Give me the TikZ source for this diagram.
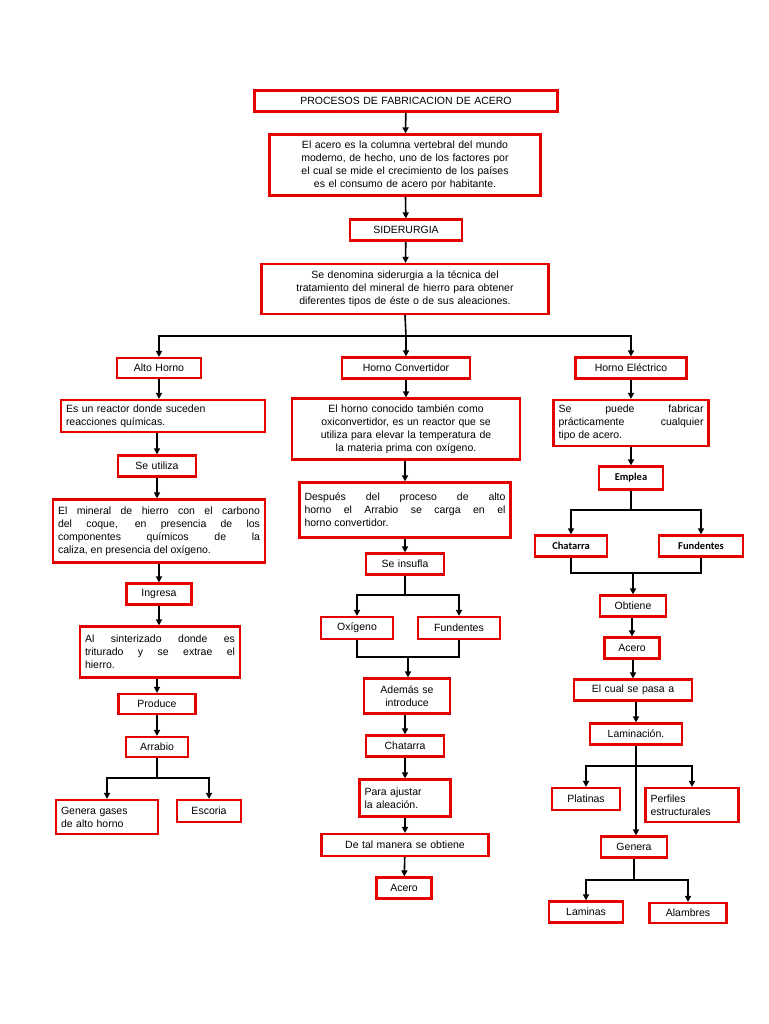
\documentclass[tikz,border=0pt]{standalone}
\usepackage{fontspec}
\setmainfont{Liberation Sans}
\newfontfamily\carfont{Carlito}
\usetikzlibrary{arrows.meta}
\begin{document}
\begin{tikzpicture}[x=1pt,y=-1pt,
  box/.style={draw=red!90!black,line width=2.2pt,fill=white,inner sep=2pt,font=\fontsize{10.5}{13}\selectfont},
  ln/.style={line width=1.6pt,black},
  arr/.style={ln,-{Triangle[length=6pt,width=6pt]}}]
\useasboundingbox[fill=white] (0,0) rectangle (768,1024);
\newcommand\bx[7]{\node[box,minimum width=#4,minimum height=#5,text width=#4-10,align=#6] (#1) at (#2,#3) {#7};}
% top
\bx{t}{406}{101}{303}{21}{center}{PROCESOS DE FABRICACION DE ACERO}
\bx{a}{405}{165}{271}{61}{center}{El acero es la columna vertebral del mundo\\moderno, de hecho, uno de los factores por\\el cual se mide el crecimiento de los países\\es el consumo de acero por habitante.}
\bx{s}{406}{230}{112}{21}{center}{SIDERURGIA}
\bx{d}{405}{289}{287}{50}{center}{Se denomina siderurgia a la técnica del\\tratamiento del mineral de hierro para obtener\\diferentes tipos de éste o de sus aleaciones.}
\bx{ah}{159}{368}{84}{20}{center}{Alto Horno}
\bx{hc}{406}{368}{128}{21}{center}{Horno Convertidor}
\bx{he}{631}{368}{111}{21}{center}{Horno Eléctrico}
% left
\bx{l1}{163}{416}{204}{32}{left}{Es un reactor donde suceden\\reacciones químicas.}
\bx{l2}{157}{466}{78}{21}{center}{Se utiliza}
\bx{l3}{159}{531}{212}{63}{justify}{El mineral de hierro con el carbono\linebreak del coque, en presencia de los\linebreak componentes químicos de la\linebreak caliza, en presencia del oxígeno.}
\bx{l4}{159}{594}{65}{21}{center}{Ingresa}
\bx{l5}{160}{652}{160}{51}{justify}{Al sinterizado donde es\linebreak triturado y se extrae el\linebreak hierro.}
\bx{l6}{157}{704}{77}{20}{center}{Produce}
\bx{l7}{157}{747}{62}{20}{center}{Arrabio}
\bx{l8}{107}{817}{102}{34}{left}{Genera gases\\de alto horno}
\bx{l9}{209}{811}{64}{22}{center}{Escoria}
% middle
\bx{m1}{406}{429}{228}{61}{center}{El horno conocido también como\\oxiconvertidor, es un reactor que se\\utiliza para elevar la temperatura de\\la materia prima con oxígeno.}
\bx{m2}{405}{510}{211}{55}{justify}{Después del proceso de alto\linebreak horno el Arrabio se carga en el\linebreak horno convertidor.}
\bx{m3}{405}{564}{78}{21}{center}{Se insufla}
\bx{m4}{357}{628}{72}{22}{center}{Oxígeno}
\bx{m5}{459}{628}{82}{22}{center}{Fundentes}
\bx{m6}{407}{696}{86}{35}{center}{Además se\\introduce}
\bx{m7}{405}{746}{78}{21}{center}{Chatarra}
\bx{m8}{405}{798}{91}{37}{left}{Para ajustar\\la aleación.}
\bx{m9}{405}{845}{167}{22}{center}{De tal manera se obtiene}
\bx{m10}{404}{888}{55}{21}{center}{Acero}
% right
\bx{r1}{631}{423}{155}{46}{justify}{Se puede fabricar\linebreak prácticamente cualquier\linebreak tipo de acero.}
\bx{r2}{631}{478}{64}{23}{center}{\carfont\bfseries Emplea}
\bx{r3}{571}{546}{72}{21}{center}{\carfont\bfseries Chatarra}
\bx{r4}{701}{546}{84}{21}{center}{\carfont\bfseries Fundentes}
\bx{r5}{633}{606}{66}{21}{center}{Obtiene}
\bx{r6}{632}{648}{55}{21}{center}{Acero}
\bx{r7}{633}{690}{118}{21}{center}{El cual se pasa a}
\bx{r8}{636}{734}{92}{21}{center}{Laminación.}
\bx{r9}{586}{799}{68}{22}{center}{Platinas}
\bx{r10}{692}{805}{93}{34}{left}{Perfiles\\estructurales}
\bx{r11}{634}{847}{66}{21}{center}{Genera}
\bx{r12}{586}{912}{74}{21}{center}{Laminas}
\bx{r13}{688}{913}{77}{20}{center}{Alambres}
% connectors
\draw[arr] (t) -- (a);
\draw[arr] (a) -- (s);
\draw[arr] (s) -- (d);
\draw[ln] (d.south) -- (406,336) coordinate (j1);
\draw[arr] (j1) -| (ah.north);
\draw[arr] (j1) -| (he.north);
\draw[arr] (j1) -- (hc.north);
\draw[arr] (ah.south) -- (ah.south|-l1.north);
\draw[arr] (l1.south-|l2) -- (l2.north);
\draw[arr] (l2) -- (l2|-l3.north);
\draw[arr] (l3.south-|l4) -- (l4.north);
\draw[arr] (l4) -- (l4|-l5.north);
\draw[arr] (l5.south-|l6) -- (l6.north);
\draw[arr] (l6) -- (l7);
\draw[ln] (l7.south) -- (157,778) coordinate (j2);
\draw[arr] (j2) -| (l8.north);
\draw[arr] (j2) -| (l9.north);
\draw[arr] (hc) -- (hc|-m1.north);
\draw[arr] (m1.south-|m2) -- (m2.north);
\draw[arr] (m2.south-|m3) -- (m3.north);
\draw[ln] (m3.south) -- (405,595) coordinate (j3);
\draw[arr] (j3) -| (m4.north);
\draw[arr] (j3) -| (m5.north);
\draw[ln] (m4.south) |- (408,657) coordinate (j4) -| (m5.south);
\draw[arr] (j4) -- (j4|-m6.north);
\draw[arr] (m6.south-|m7) -- (m7.north);
\draw[arr] (m7) -- (m8);
\draw[arr] (m8) -- (m9);
\draw[arr] (m9) -- (m10);
\draw[arr] (he) -- (he|-r1.north);
\draw[arr] (r1.south-|r2) -- (r2.north);
\draw[ln] (r2.south) -- (631,510) coordinate (j5);
\draw[arr] (j5) -| (r3.north);
\draw[arr] (j5) -| (r4.north);
\draw[ln] (r3.south) |- (633,573) coordinate (j6) -| (r4.south);
\draw[arr] (j6) -- (r5.north);
\draw[arr] (r5.south-|r6) -- (r6.north);
\draw[arr] (r6.south-|r7) -- (r7.north);
\draw[arr] (r7.south-|r8) -- (r8.north);
\draw[arr] (r8.south) -- (r8.south|-r11.north);
\coordinate (j7) at (636,766);
\draw[arr] (j7) -| (r9.north);
\draw[arr] (j7) -| (r10.north);
\draw[ln] (r11.south) -- (634,880) coordinate (j8);
\draw[arr] (j8) -| (r12.north);
\draw[arr] (j8) -| (r13.north);
\end{tikzpicture}
\end{document}
